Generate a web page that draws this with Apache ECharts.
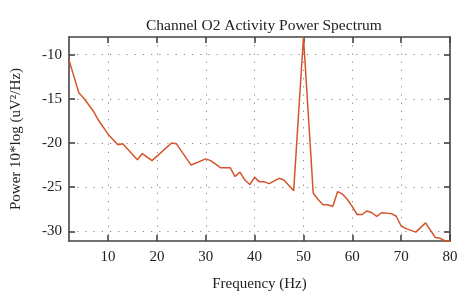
<!DOCTYPE html>
<html><head><meta charset="utf-8">
<script src="https://cdn.jsdelivr.net/npm/echarts@6/dist/echarts.min.js"></script>
<style>html,body{margin:0;padding:0;background:#fff}#c{width:474px;height:303px}</style>
</head><body><div id="c"></div>
<script>
var titleText = 'Channel O2 Activity Power Spectrum';
var xName = 'Frequency (Hz)';
var yName = 'Power 10*log (uV\u00B2/Hz)';
var xTicks = [10,20,30,40,50,60,70,80];
var yTicks = [-30,-25,-20,-15,-10];
var freqs = [2,4,5,7,8,10,11,12,13,16,17,19,23,24,27,30,31,33,35,36,37,38,39,40,41,42,43,45,46,48,50,52,53,54,55,56,57,58,59,60,61,62,63,64,65,66,68,69,70,71,73,75,77,78,79,80];
var power = [-10.6,-14.3,-14.9,-16.4,-17.4,-19.0,-19.6,-20.2,-20.1,-21.9,-21.2,-22.0,-20.0,-20.1,-22.5,-21.8,-22.0,-22.8,-22.8,-23.8,-23.3,-24.2,-24.7,-23.9,-24.4,-24.4,-24.6,-24.0,-24.2,-25.4,-8.0,-25.7,-26.4,-27.0,-27.0,-27.2,-25.5,-25.8,-26.4,-27.2,-28.1,-28.1,-27.7,-27.9,-28.3,-27.9,-28.0,-28.3,-29.4,-29.7,-30.1,-29.05,-30.7,-30.8,-31.1,-31.1];

var FONT = "'Liberation Serif', 'DejaVu Serif', serif";
var frame = {show:true, onZero:false, lineStyle:{color:'#444', width:1.6}};
var grid = {show:true, lineStyle:{color:'#888', width:1, type:[1.2,7]}};
function xAx(pos, main){
  return {type:'value', position:pos, min:2, max:80,
    axisLine:frame,
    axisTick:{show:true, inside:true, length:6, customValues:xTicks, lineStyle:{color:'#444', width:1.6}},
    axisLabel:{show:main, customValues:xTicks, color:'#222', fontSize:15, fontFamily:FONT, margin:9},
    splitLine: main ? grid : {show:false},
    name: main ? xName : '', nameLocation:'middle', nameGap:36,
    nameTextStyle:{color:'#222', fontSize:15, fontFamily:FONT}};
}
function yAx(pos, main){
  return {type:'value', position:pos, min:-31.1, max:-8,
    axisLine:frame,
    axisTick:{show:true, inside:true, length:6, customValues:yTicks, lineStyle:{color:'#444', width:1.6}},
    axisLabel:{show:main, customValues:yTicks, color:'#222', fontSize:15, fontFamily:FONT, margin:7},
    splitLine: main ? grid : {show:false},
    name: main ? yName : '', nameLocation:'middle', nameGap:45,
    nameTextStyle:{color:'#222', fontSize:15, fontFamily:FONT}};
}
var chart = echarts.init(document.getElementById('c'), null, {renderer:'canvas'});
chart.setOption({
  animation:false,
  title:{text:titleText, left:141, top:13, textStyle:{color:'#222', fontSize:15.5, fontWeight:'normal', fontFamily:FONT}},
  grid:{left:69, right:24, top:37, bottom:62},
  xAxis:[xAx('bottom', true), xAx('top', false)],
  yAxis:[yAx('left', true), yAx('right', false)],
  series:[{type:'line', xAxisIndex:0, yAxisIndex:0, showSymbol:false, clip:false,
    data: freqs.map(function(f,i){return [f, power[i]];}),
    lineStyle:{color:'#d4552b', width:1.5}, itemStyle:{color:'#d4552b'}}]
});
</script></body></html>
